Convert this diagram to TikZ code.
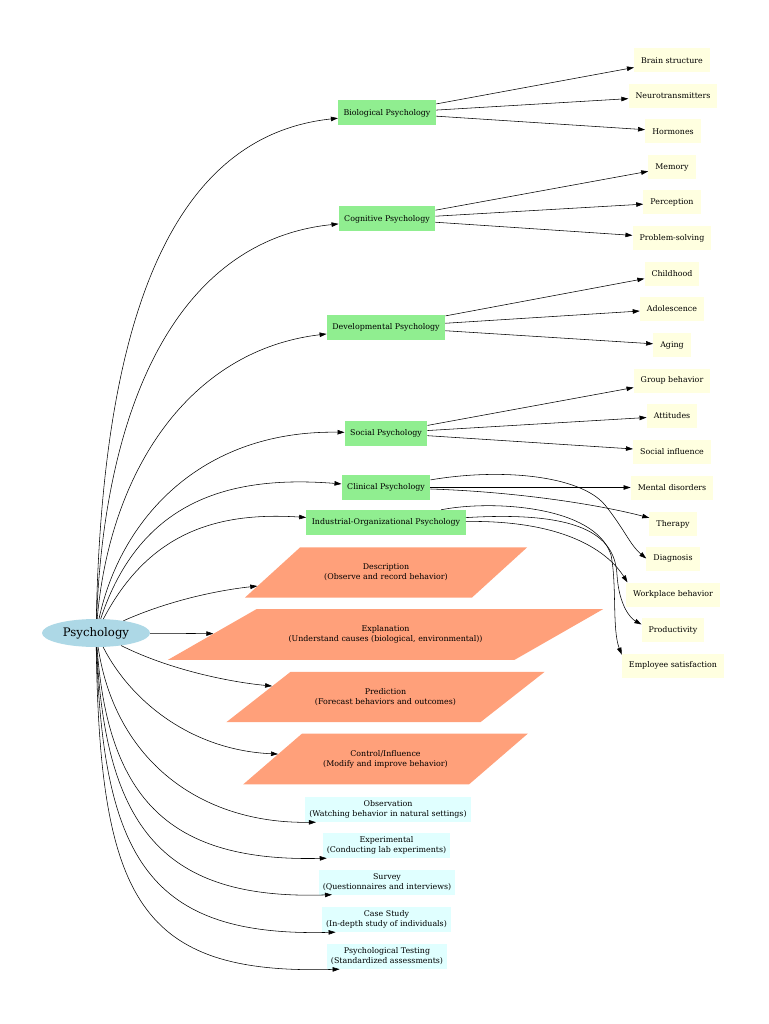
\documentclass[tikz,border=0pt]{standalone}
\usepackage{fontspec}
\setmainfont{DejaVu Serif}
\usetikzlibrary{arrows.meta,shapes.geometric}
\definecolor{cgreen}{HTML}{90EE90}
\definecolor{cyellow}{HTML}{FFFFE0}
\definecolor{ccyan}{HTML}{E0FFFF}
\definecolor{cblue}{HTML}{ADD8E6}
\definecolor{csalmon}{HTML}{FFA07A}
\newcommand\fsSmall{\fontsize{7.9}{10}\selectfont}
\newcommand\fsRoot{\fontsize{11.7}{13}\selectfont}
\begin{document}
\begin{tikzpicture}[x=1pt,y=-1pt,
  edge/.style={draw, line width=0.55pt, -{Triangle[length=7pt,width=4.5pt]}},
  rootnode/.style={ellipse, fill=cblue, minimum width=108pt, minimum height=28pt, inner sep=0pt, font=\fsRoot},
  area/.style={rectangle, fill=cgreen, minimum height=25pt, inner xsep=5.5pt, font=\fsSmall},
  leaf/.style={rectangle, fill=cyellow, minimum height=24pt, inner xsep=7pt, font=\fsSmall},
  method/.style={rectangle, fill=ccyan, align=center, minimum height=25pt, inner xsep=4pt, inner ysep=1pt, font=\fsSmall},
  goal/.style={trapezium, fill=csalmon, align=center, inner xsep=0pt, inner ysep=16.5pt, font=\fsSmall}
]
\useasboundingbox (0,0) rectangle (768,1024);
\fill[white] (0,0) rectangle (768,1024);

\node[rootnode] (root) at (96,633) {Psychology};

\node[area] (bio) at (387,113) {Biological Psychology};
\node[area] (cog) at (387,219) {Cognitive Psychology};
\node[area] (dev) at (386,327) {Developmental Psychology};
\node[area] (soc) at (386,433) {Social Psychology};
\node[area] (cli) at (386,487.5) {Clinical Psychology};
\node[area] (io)  at (386,522.5) {Industrial-Organizational Psychology};

\node[leaf] (brain) at (672,60.5) {Brain structure};
\node[leaf] (neuro) at (673,96) {Neurotransmitters};
\node[leaf] (horm)  at (673,131.5) {Hormones};
\node[leaf] (mem)   at (672,167) {Memory};
\node[leaf] (perc)  at (672,202.5) {Perception};
\node[leaf] (prob)  at (672,238) {Problem-solving};
\node[leaf] (child) at (672,273.5) {Childhood};
\node[leaf] (adol)  at (672,309) {Adolescence};
\node[leaf] (aging) at (672,345) {Aging};
\node[leaf] (group) at (672,380.5) {Group behavior};
\node[leaf] (att)   at (672,416) {Attitudes};
\node[leaf] (sinf)  at (672,451.5) {Social influence};
\node[leaf] (ment)  at (672,487.5) {Mental disorders};
\node[leaf] (ther)  at (673,524) {Therapy};
\node[leaf] (diag)  at (673,558.5) {Diagnosis};
\node[leaf] (work)  at (673,594.5) {Workplace behavior};
\node[leaf] (prod)  at (673,630) {Productivity};
\node[leaf] (emp)   at (673,665.5) {Employee satisfaction};

\node[goal, text width=172pt, trapezium left angle=42.3, trapezium right angle=137.7] (desc) at (386,572.5) {Description\\(Observe and record behavior)};
\node[goal, text width=258pt, trapezium left angle=29.8, trapezium right angle=150.2] (expl) at (385.5,634.5) {Explanation\\(Understand causes (biological, environmental))};
\node[goal, text width=190pt, trapezium left angle=38.1, trapezium right angle=141.9] (pred) at (385.5,697) {Prediction\\(Forecast behaviors and outcomes)};
\node[goal, text width=167pt, trapezium left angle=40.8, trapezium right angle=139.2] (ctrl) at (385.5,759) {Control/Influence\\(Modify and improve behavior)};

\node[method] (obs)  at (388,809.5) {Observation\\(Watching behavior in natural settings)};
\node[method] (expm) at (386.5,845.5) {Experimental\\(Conducting lab experiments)};
\node[method] (surv) at (387,882) {Survey\\(Questionnaires and interviews)};
\node[method] (case) at (386.5,919.5) {Case Study\\(In-depth study of individuals)};
\node[method] (test) at (387,956.5) {Psychological Testing\\(Standardized assessments)};

% root to areas
\draw[edge] (root) .. controls (103,300) and (180,135) .. (bio);
\draw[edge] (root) .. controls (105,400) and (180,240) .. (cog);
\draw[edge] (root) .. controls (110,470) and (190,350) .. (dev);
\draw[edge] (root) .. controls (120,520) and (200,430) .. (soc);
\draw[edge] (root) .. controls (140,500) and (230,475) .. (cli);
\draw[edge] (root) .. controls (150,530) and (220,512) .. (io);
% root to goals
\draw[edge] (root) .. controls (170,600) and (220,590) .. (desc);
\draw[edge] (root) -- (expl);
\draw[edge] (root) .. controls (170,670) and (230,682) .. (pred);
\draw[edge] (root) .. controls (130,700) and (190,750) .. (ctrl);
% root to methods
\draw[edge] (root) .. controls (115,760) and (200,824) .. (obs.190);
\draw[edge] (root) .. controls (108,800) and (170,862) .. (expm.192);
\draw[edge] (root) .. controls (105,830) and (165,900) .. (surv.193);
\draw[edge] (root) .. controls (103,860) and (150,937) .. (case.194);
\draw[edge] (root) .. controls (100,900) and (140,975) .. (test.195);

% areas to leaves
\draw[edge] (bio) -- (brain);
\draw[edge] (bio) -- (neuro);
\draw[edge] (bio) -- (horm);
\draw[edge] (cog) -- (mem);
\draw[edge] (cog) -- (perc);
\draw[edge] (cog) -- (prob);
\draw[edge] (dev) -- (child);
\draw[edge] (dev) -- (adol);
\draw[edge] (dev) -- (aging);
\draw[edge] (soc) -- (group);
\draw[edge] (soc) -- (att);
\draw[edge] (soc) -- (sinf);
\draw[edge] (cli) -- (ment);
\draw[edge] (cli) .. controls (520,492) and (600,505) .. (ther);
\draw[edge] (cli) .. controls (500,468) and (580,475) .. (605,505) .. controls (625,530) and (630,545) .. (diag.west);
\draw[edge] (io) .. controls (575,520) and (612,558) .. (work.165);
\draw[edge] (io) .. controls (590,510) and (615,540) .. (617,575) .. controls (619,605) and (630,618) .. (prod.170);
\draw[edge] (io.13) .. controls (490,500) and (595,505) .. (611,555) .. controls (617,585) and (612,630) .. (emp.168);
\end{tikzpicture}
\end{document}
